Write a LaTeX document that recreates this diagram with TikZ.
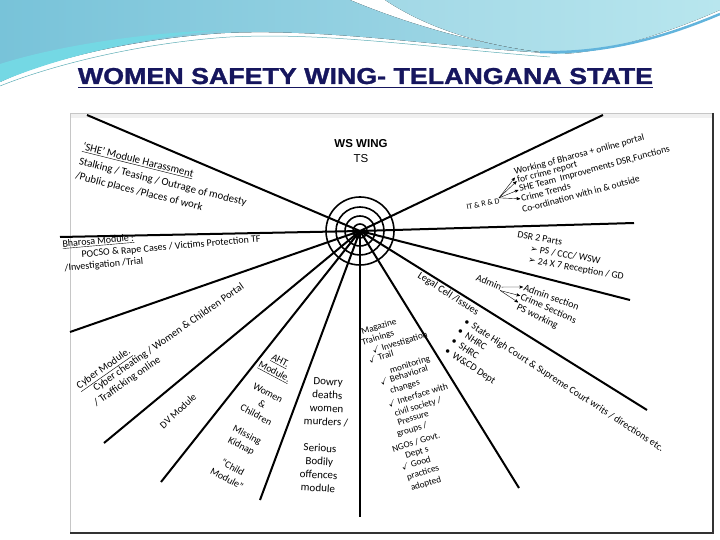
\documentclass[tikz,border=0pt]{standalone}
\usepackage{amsmath}
\usepackage{amssymb}
\usepackage{fontspec}
\setmainfont{Carlito}
\newfontfamily\headfont{Liberation Sans}
\newfontfamily\titlefont{Liberation Sans}[FakeBold=1.2]
\newfontfamily\arrowfont{DejaVu Sans}
\usetikzlibrary{arrows}

\definecolor{titleblue}{HTML}{16165E}
\definecolor{hdrleft}{HTML}{78C3D9}
\definecolor{hdrmid}{HTML}{A2D8E6}
\definecolor{hdrright}{HTML}{B8E6EE}
\definecolor{hdrcyan}{HTML}{74D8E4}
\definecolor{swoosh}{HTML}{62B4DC}

\begin{document}
\begin{tikzpicture}[x=1pt,y=-1pt,>=stealth',
  ray/.style={line width=2pt},
  ring/.style={line width=1.6pt},
  lbl/.style={inner sep=0pt,align=left,font=\fontsize{10}{12}\selectfont},
  mag/.style={inner sep=0pt,rotate=17,font=\fontsize{9.2}{10}\selectfont},
  arr/.style={->,thin,shorten >=1pt}]

\useasboundingbox (0,0) rectangle (720,540);

% header band
\fill[left color=hdrleft,right color=hdrmid] (0,0) -- (350,0)
  .. controls (410,25) and (480,45) .. (548,53)
  .. controls (450,48) and (330,28) .. (225,33)
  .. controls (140,38) and (50,58) .. (0,82) -- cycle;
\fill[hdrcyan] (0,64) .. controls (60,45) and (150,32) .. (225,30)
  .. controls (150,36) and (60,56) .. (0,82) -- cycle;
\fill[left color=hdrmid,right color=hdrright] (385,0) -- (720,0) -- (720,10)
  .. controls (670,32) and (610,52) .. (560,54)
  .. controls (490,48) and (430,30) .. (385,0) -- cycle;
\draw[swoosh,line width=2.5pt] (540,52) .. controls (610,54) and (670,35) .. (720,14);
\draw[hdrcyan!80!black,line width=0.5pt] (0,86) .. controls (60,62) and (150,42) .. (230,37)
  .. controls (330,32) and (430,48) .. (550,57);

\node[font=\titlefont\bfseries\fontsize{23}{23}\selectfont,text=titleblue,
  inner sep=0pt,anchor=base,xscale=1.165] (title) at (365.5,84) {WOMEN SAFETY WING- TELANGANA STATE};
\draw[titleblue,line width=1.4pt] (78,87.5) -- (653,87.5);

% picture frame
\fill[gray!12] (70,113) rectangle (713,118);
\draw[gray!45] (70,113) rectangle (713,533);
\draw[line width=1.6pt,black!80] (713,113) -- (713,533) -- (70,533);

% rays and rings
\coordinate (c) at (360,231);
\coordinate (e1) at (87,115);
\coordinate (e2) at (603,115);
\coordinate (e3) at (60,237);
\coordinate (e4) at (634,223);
\coordinate (e5) at (70,332);
\coordinate (e6) at (104,443);
\coordinate (e7) at (161,482);
\coordinate (e8) at (260,500);
\coordinate (e9) at (360,517);
\coordinate (e10) at (519,488);
\coordinate (e11) at (647,410);
\coordinate (e12) at (630,300);
\foreach \k in {1,...,12}
  \draw[ray] (c) -- (e\k);
\foreach \rad in {34,24,15,7}
  \draw[ring] (c) circle[radius=\rad pt];

\node[font=\headfont\bfseries\fontsize{11.5}{12}\selectfont,inner sep=0pt] (ws) at (361,144) {WS WING};
\node[font=\headfont\fontsize{11.5}{12}\selectfont,inner sep=0pt] (ts) at (361,159) {TS};

% left side modules
\node[lbl,font=\fontsize{10.8}{15}\selectfont,rotate=-14,anchor=north west] (she) at (84,142)
  {\underline{`SHE' Module Harassment}\\Stalking / Teasing / Outrage of modesty\\/Public places /Places of work};
\node[lbl,rotate=5,anchor=north west] (bharosa) at (62,240)
  {\underline{Bharosa Module :}\\\hspace*{18pt}POCSO \& Rape Cases / Victims Protection TF\\/Investigation /Trial};
\node[lbl,font=\fontsize{10.5}{12}\selectfont,rotate=35,anchor=north west] (cyber) at (75,383)
  {\underline{Cyber Module.}\\\hspace*{12pt}Cyber cheating / Women \& Children Portal\\\hspace*{4pt}/ Trafficking online};
\node[lbl,rotate=43] (dv) at (178,411) {DV Module};
\node[lbl,align=center,font=\fontsize{10}{12.5}\selectfont,rotate=-28] (aht) at (277,367)
  {\underline{AHT.}\\\underline{Module.}};
\node[lbl,align=center,font=\fontsize{10}{12.5}\selectfont,rotate=-28] (women) at (262,404)
  {Women\\\&\\Children};
\node[lbl,align=center,font=\fontsize{10}{12.5}\selectfont,rotate=-28] (missing) at (244,441)
  {Missing\\Kidnap};
\node[lbl,align=center,font=\fontsize{10}{12.5}\selectfont,rotate=-28] (child) at (230,473)
  {``Child\\Module''};
\node[lbl,align=center,font=\fontsize{11}{13.3}\selectfont,rotate=-3] (dowry) at (327,402)
  {Dowry\\deaths\\women\\murders /};
\node[lbl,align=center,font=\fontsize{11}{13.3}\selectfont,rotate=-3] (bodily) at (319,468)
  {Serious\\Bodily\\offences\\module};

% magazine / trainings
\node[mag] (mag1) at (379,327) {Magazine};
\node[mag] (mag2) at (378,338) {Trainings};
\node[mag] (mag3) at (400,343) {$\checkmark$ Investigation};
\node[mag] (mag4) at (381,357) {$\checkmark$ Trail};
\node[mag] (mag5) at (410,365) {monitoring};
\node[mag] (mag6) at (404,375) {$\checkmark$ Behavioral};
\node[mag] (mag7) at (405,387) {changes};
\node[mag] (mag8) at (418,395) {$\checkmark$ Interface with};
\node[mag] (mag9) at (418,407) {civil society /};
\node[mag] (mag10) at (413,418) {Pressure};
\node[mag] (mag11) at (412,430) {groups /};
\node[mag] (mag12) at (416,442) {NGOs / Govt.};
\node[mag] (mag13) at (417,453) {Dept s};
\node[mag] (mag14) at (416,463) {$\checkmark$ Good};
\node[mag] (mag15) at (423,473) {practices};
\node[mag] (mag16) at (426,484) {adopted};

% right side modules
\node[lbl,font=\fontsize{10.3}{12}\selectfont,rotate=-33,anchor=north west] (legal) at (421,271)
  {Legal Cell /Issues};
\node[lbl,font=\fontsize{10}{11.7}\selectfont,rotate=-33,anchor=north west] (courts) at (467,317)
  {\textbullet\hspace{4pt}State High Court \& Supreme Court writs / directions etc.\\
   \textbullet\hspace{4pt}NHRC\\
   \textbullet\hspace{4pt}SHRC\\
   \textbullet\hspace{4pt}W\&CD Dept};

\node[lbl,rotate=-22] (admin) at (489,282) {Admin};
\node[lbl,rotate=-20,anchor=west] (asec) at (524,287) {Admin section};
\node[lbl,rotate=-24,anchor=west] (csec) at (521,296) {Crime Sections};
\node[lbl,rotate=-26,anchor=west] (psw) at (517,307) {PS working};
\draw[arr] (admin.east) -- (asec.west);
\draw[arr] (admin.south east) -- (csec.west);
\draw[arr] (admin.south east) -- (psw.north west);

\node[lbl,font=\fontsize{9.8}{11.5}\selectfont,rotate=-10,anchor=north west] (dsr) at (518,231)
  {DSR 2 Parts\\
   \hspace*{15pt}{\arrowfont\small ➢}\ PS / CCC/ WSW\\
   \hspace*{15pt}{\arrowfont\small ➢}\ 24 X 7 Reception / GD};

\node[lbl,font=\fontsize{8}{10}\selectfont,rotate=11] (itrd) at (483,204) {IT \& R \& D};
\node[lbl,font=\fontsize{9.5}{12}\selectfont,rotate=15,anchor=base west] (it1) at (515,175) {Working of Bharosa + online portal};
\node[lbl,font=\fontsize{9.5}{12}\selectfont,rotate=15,anchor=base west] (it2) at (518,183) {for crime report};
\node[lbl,font=\fontsize{9.5}{12}\selectfont,rotate=15,anchor=base west] (it3) at (520,192) {SHE Team\ \ Improvements DSR,Functions};
\node[lbl,font=\fontsize{9.5}{12}\selectfont,rotate=15,anchor=base west] (it4) at (522,202) {Crime Trends};
\node[lbl,font=\fontsize{9.5}{12}\selectfont,rotate=15,anchor=base west] (it5) at (523,213) {Co-ordination with in \& outside};
\draw[arr] (itrd.north east) -- (it1.south west);
\draw[arr] (itrd.north east) -- (it2.west);
\draw[arr] (itrd.north east) -- (it3.west);
\draw[arr] (itrd.north east) -- (it4.west);

\end{tikzpicture}
\end{document}
